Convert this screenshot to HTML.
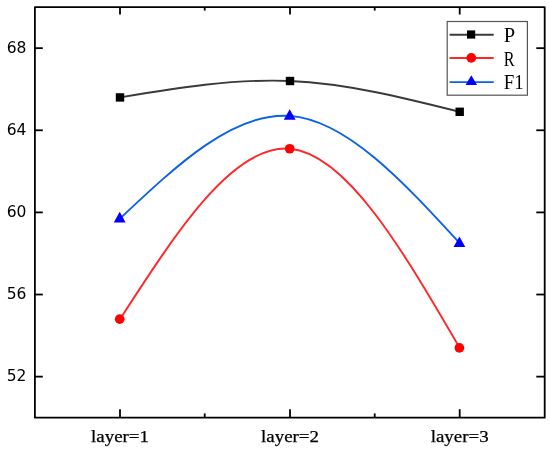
<!DOCTYPE html>
<html><head><meta charset="utf-8"><style>
html,body{margin:0;padding:0;background:#fff;}
body{width:550px;height:449px;overflow:hidden;}
svg{display:block;}
</style></head><body>
<svg width="550" height="449" viewBox="0 0 550 449">
<rect width="550" height="449" fill="#fff"/>
<g fill="none" stroke-linecap="butt">
<path d="M120.00,97.43 C176.67,88.01 233.33,78.60 290.00,81.01 C346.57,83.41 403.13,97.61 459.70,111.80" stroke="#3a3a3a" stroke-width="1.9"/>
<path d="M120.00,319.16 C176.67,231.50 233.33,143.85 290.00,148.76 C346.57,153.65 403.13,250.77 459.70,347.90" stroke="#ff2828" stroke-width="1.9"/>
<path d="M120.00,218.56 C176.67,165.15 233.33,111.73 290.00,115.91 C346.57,120.08 403.13,181.64 459.70,243.20" stroke="#0b62e6" stroke-width="1.9"/>
</g>
<rect x="115.80" y="93.23" width="8.4" height="8.4" fill="#000"/><rect x="285.80" y="76.81" width="8.4" height="8.4" fill="#000"/><rect x="455.50" y="107.60" width="8.4" height="8.4" fill="#000"/>
<circle cx="119.70" cy="319.16" r="4.85" fill="#ff0000"/><circle cx="289.70" cy="148.76" r="4.85" fill="#ff0000"/><circle cx="459.40" cy="347.90" r="4.85" fill="#ff0000"/>
<polygon points="119.70,211.86 125.60,222.46 113.80,222.46" fill="#0000ff"/><polygon points="289.70,109.21 295.60,119.81 283.80,119.81" fill="#0000ff"/><polygon points="459.40,236.50 465.30,247.10 453.50,247.10" fill="#0000ff"/>
<g stroke="#000" stroke-width="1.8"><line x1="34.9" y1="376.64" x2="42.8" y2="376.64"/><line x1="544.7" y1="376.64" x2="536.3" y2="376.64"/><line x1="34.9" y1="294.52" x2="42.8" y2="294.52"/><line x1="544.7" y1="294.52" x2="536.3" y2="294.52"/><line x1="34.9" y1="212.40" x2="42.8" y2="212.40"/><line x1="544.7" y1="212.40" x2="536.3" y2="212.40"/><line x1="34.9" y1="130.28" x2="42.8" y2="130.28"/><line x1="544.7" y1="130.28" x2="536.3" y2="130.28"/><line x1="34.9" y1="48.16" x2="42.8" y2="48.16"/><line x1="544.7" y1="48.16" x2="536.3" y2="48.16"/><line x1="120.0" y1="417.7" x2="120.0" y2="409.2"/><line x1="120.0" y1="7.1" x2="120.0" y2="14.5"/><line x1="290.0" y1="417.7" x2="290.0" y2="409.2"/><line x1="290.0" y1="7.1" x2="290.0" y2="14.5"/><line x1="459.7" y1="417.7" x2="459.7" y2="409.2"/><line x1="459.7" y1="7.1" x2="459.7" y2="14.5"/><line x1="204.7" y1="417.7" x2="204.7" y2="413.4"/><line x1="204.7" y1="7.1" x2="204.7" y2="10.6"/><line x1="374.7" y1="417.7" x2="374.7" y2="413.4"/><line x1="374.7" y1="7.1" x2="374.7" y2="10.6"/></g>
<rect x="34.9" y="7.1" width="509.80" height="410.60" fill="none" stroke="#000" stroke-width="1.8" stroke-linejoin="round"/>
<g font-family="'DejaVu Sans', sans-serif" font-size="15.5" fill="#000"><text x="26.4" y="381.34" text-anchor="end">52</text><text x="26.4" y="299.22" text-anchor="end">56</text><text x="26.4" y="217.10" text-anchor="end">60</text><text x="26.4" y="134.98" text-anchor="end">64</text><text x="26.4" y="52.86" text-anchor="end">68</text></g>
<g font-family="'Liberation Serif', serif" font-size="17.7" fill="#000" stroke="#000" stroke-width="0.25"><text x="91.00" y="441.8" textLength="58" lengthAdjust="spacingAndGlyphs">layer=1</text><text x="261.00" y="441.8" textLength="58" lengthAdjust="spacingAndGlyphs">layer=2</text><text x="430.70" y="441.8" textLength="58" lengthAdjust="spacingAndGlyphs">layer=3</text></g>
<rect x="447.2" y="21.5" width="80.2" height="73.7" fill="#fff" stroke="#555" stroke-width="1.2"/>
<line x1="449.6" y1="34.7" x2="493.7" y2="34.7" stroke="#3a3a3a" stroke-width="1.9"/>
<line x1="449.6" y1="58.0" x2="493.7" y2="58.0" stroke="#ff2828" stroke-width="1.9"/>
<line x1="449.6" y1="82.1" x2="493.7" y2="82.1" stroke="#0b62e6" stroke-width="1.9"/>
<rect x="467.00" y="30.40" width="8.2" height="8.2" fill="#000"/>
<circle cx="471.30" cy="57.90" r="4.85" fill="#ff0000"/>
<polygon points="471.3,75.2 477.0,85.1 465.6,85.1" fill="#0000ff"/>
<g font-family="'Liberation Serif', serif" font-size="22" fill="#000">
<text transform="translate(503.7,41.8) scale(0.93,1)">P</text>
<text transform="translate(503.7,65.6) scale(0.74,1)">R</text>
<text transform="translate(503.7,89.0) scale(0.86,1)">F1</text>
</g>
</svg>
</body></html>
